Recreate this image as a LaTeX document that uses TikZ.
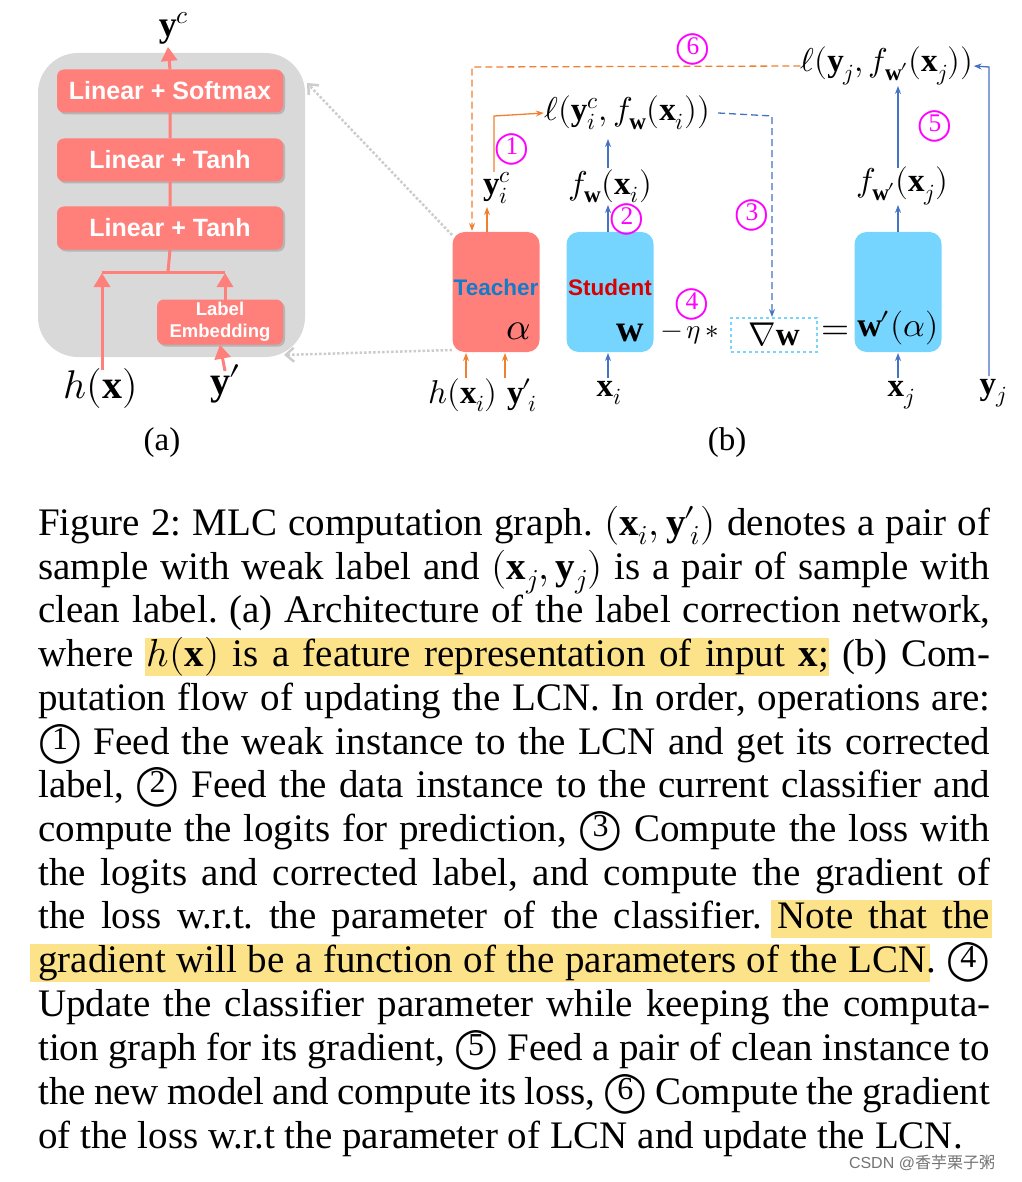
\documentclass[tikz,border=0pt]{standalone}
\usepackage{fontspec}
\usepackage{unicode-math}
\setmainfont{Liberation Serif}
\setmathfont{Latin Modern Math}
\newfontfamily\arialb{Liberation Sans}
\newfontfamily\symf{DejaVu Sans}
\newfontfamily\cjk{Noto Sans CJK SC}
\usetikzlibrary{arrows.meta,shadows}
\definecolor{salmon}{HTML}{FF7F7B}
\definecolor{sky}{HTML}{75D5FF}
\definecolor{orng}{HTML}{F08030}
\definecolor{blu}{HTML}{4472C4}
\definecolor{hl}{HTML}{FCE38A}
\definecolor{mag}{HTML}{FF00FF}
\newcommand{\cc}[1]{\ooalign{{\symf\char"25EF}\cr\hidewidth\raisebox{0.12em}{\scalebox{0.82}{#1}}\hidewidth}}
\newcommand{\pr}{\mkern-1mu\prime}
\newcommand{\capln}[1]{\hbox to 952pt{#1}}
\frenchspacing
\begin{document}
\begin{tikzpicture}[x=1pt,y=-1pt,
  layer/.style={fill=salmon,rounded corners=7pt,drop shadow={shadow xshift=2pt,shadow yshift=-2pt,opacity=0.4},text=white,font=\arialb\bfseries\fontsize{25}{25}\selectfont,inner sep=0},
  netbox/.style={rounded corners=12pt,inner sep=0},
  mth/.style={font=\fontsize{33}{36}\selectfont,inner sep=0},
  pk/.style={draw=salmon,line width=3pt},
  pkarr/.style={pk,-{Triangle[length=14pt,width=16pt]}},
  oa/.style={draw=orng,line width=1.3pt,-{Stealth[length=8pt,width=6pt]}},
  ba/.style={draw=blu,line width=1.3pt,-{Stealth[length=8pt,width=6pt]}},
  dots/.style={draw=black!20,line width=2.5pt,dotted,-{Straight Barb[length=8pt,width=14pt]}},
  num/.style={text=mag,inner sep=0,font=\fontsize{31}{31}\selectfont}]
\useasboundingbox (0,0) rectangle (1021,1182);
% ---------- panel (a)
\fill[black!15,rounded corners=40pt] (38,53) rectangle (305,357);
\node[layer,minimum width=226pt,minimum height=43pt] (ls) at (170,91) {Linear + Softmax};
\node[layer,minimum width=226pt,minimum height=43pt] (t1) at (170,160) {Linear + Tanh};
\node[layer,minimum width=226pt,minimum height=43pt] (t2) at (170,228) {Linear + Tanh};
\node[layer,minimum width=126pt,minimum height=45pt,align=center,font=\arialb\bfseries\fontsize{18.5}{22}\selectfont] (le) at (220,322) {Label\\Embedding};
\node[mth,font=\fontsize{36}{40}\selectfont] (yc) at (174,28) {$\mathbf{y}^c$};
\node[mth,font=\fontsize{40}{44}\selectfont] (hx) at (101,388) {$h(\mathbf{x})$};
\node[mth,font=\fontsize{40}{44}\selectfont] (yp) at (226,384) {$\mathbf{y}\pr$};
\node[font=\fontsize{33}{36}\selectfont] at (162,443) {(a)};
\draw[pk] (t1.north) -- (ls.south) (t2.north) -- (t1.south) (t2.south) -- (168,272);
\draw[pkarr] (ls.north) -- (168,47);
\draw[pk] (102,272) -- (225,272);
\draw[pkarr] (102,370) -- (102,273);
\draw[pkarr] (225,300) -- (225,273);
\draw[pkarr] (225,371) -- (le.south);
% ---------- panel (b)
\node[netbox,fill=salmon,minimum width=87pt,minimum height=120pt] (te) at (496,292) {};
\node[netbox,fill=sky,minimum width=87pt,minimum height=120pt] (st) at (610,292) {};
\node[netbox,fill=sky,minimum width=87pt,minimum height=120pt] (nw) at (898,292) {};
\node[text=cyan!60!blue,font=\arialb\bfseries\fontsize{22.5}{22}\selectfont,inner sep=0] at (496,287) {Teacher};
\node[text=red!85!black,font=\arialb\bfseries\fontsize{22.5}{22}\selectfont,inner sep=0] at (610,287) {Student};
\node[mth,font=\fontsize{38}{38}\selectfont] at (519,331) {$\alpha$};
\node[mth,font=\fontsize{38}{38}\selectfont] at (630,333) {$\mathbf{w}$};
\node[mth,font=\fontsize{34}{34}\selectfont] at (898,328) {$\mathbf{w}\pr(\alpha)$};
\node[mth,font=\fontsize{27}{30}\selectfont] at (690,335) {$-\,\eta\,*$};
\node[draw=sky,dashed,line width=2.5pt,minimum width=86pt,minimum height=34pt,inner sep=0,font=\fontsize{33}{34}\selectfont] (gw) at (774,335) {$\nabla\mathbf{w}$};
\node[mth,font=\fontsize{36}{36}\selectfont] at (835,333) {$=$};
\node[mth] (hxi) at (463,395) {$h(\mathbf{x}_i)$};
\node[mth] (ypi) at (522,395) {$\mathbf{y}\pr_{\!i}$};
\node[mth] (xi) at (609,393) {$\mathbf{x}_i$};
\node[mth] (xj) at (901,395) {$\mathbf{x}_j$};
\node[mth] (yj) at (993,393) {$\mathbf{y}_j$};
\node[mth] (yci) at (497,188) {$\mathbf{y}_i^c$};
\node[mth] (fw) at (610,186) {$f_{\mathbf{w}}(\mathbf{x}_i)$};
\node[mth] (fwp) at (902,186) {$f_{\mathbf{w}\pr}(\mathbf{x}_j)$};
\node[mth] (l1) at (627,113) {$\ell(\mathbf{y}_i^c,f_{\mathbf{w}}(\mathbf{x}_i))$};
\node[mth] (l2) at (887,66) {$\ell(\mathbf{y}_j,f_{\mathbf{w}\pr}(\mathbf{x}_j))$};
\node[font=\fontsize{33}{36}\selectfont] at (727,443) {(b)};
\node[num] at (512,146) {\cc{1}};
\node[num] at (627,216) {\cc{2}};
\node[num] at (752,212) {\cc{3}};
\node[num] at (692,301) {\cc{4}};
\node[num] at (935,123) {\cc{5}};
\node[num] at (693,46) {\cc{6}};
\draw[oa] (466,378) -- (466,353);
\draw[oa] (505,378) -- (505,353);
\draw[oa] (487,232) -- (487,207);
\draw[oa] (494,172) -- (494,116) -- (l1.west);
\draw[ba] (608,378) -- (608,353);
\draw[ba] (608,232) -- (608,205);
\draw[ba] (608,168) -- (608,139);
\draw[ba] (898,378) -- (898,353);
\draw[ba] (898,232) -- (898,205);
\draw[ba] (898,168) -- (898,86);
\draw[ba] (989,376) -- (989,67) -- (l2.east);
\draw[blu,line width=1.3pt,dash pattern=on 7pt off 4pt,-{Stealth[length=8pt,width=6pt]}] (l1.east)++(8,0) -- (772,116) -- (772,317);
\draw[orng,line width=1.3pt,dash pattern=on 7pt off 4pt,-{Stealth[length=8pt,width=6pt]}] (l2.west) -- (472,67) -- (472,231);
\draw[dots] (452,350) -- (284,355);
\draw[dots] (452,235) -- (307,83);
% ---------- caption
\fill[hl] (145,638) rectangle (829,676);
\fill[hl] (771,900) rectangle (992,938);
\fill[hl] (30,944) rectangle (930,982);
\begin{scope}[every node/.style={anchor=base west,inner sep=0,font=\fontsize{39}{42}\selectfont}]
\node at (38,535) {\capln{Figure 2: MLC computation graph. $(\mathbf{x}_i,\mathbf{y}\pr_{\!i})$ denotes a pair of}};
\node at (38,579) {\capln{sample with weak label and $(\mathbf{x}_j,\mathbf{y}_j)$ is a pair of sample with}};
\node at (38,622) {\capln{clean label. (a) Architecture of the label correction network,}};
\node at (38,666) {\capln{where $h(\mathbf{x})$ is a feature representation of input $\mathbf{x}$; (b) Com-}};
\node at (38,710) {\capln{putation flow of updating the LCN. In order, operations are:}};
\node at (38,754) {\capln{\cc{1} Feed the weak instance to the LCN and get its corrected}};
\node at (38,797) {\capln{label, \cc{2} Feed the data instance to the current classifier and}};
\node at (38,841) {\capln{compute the logits for prediction, \cc{3} Compute the loss with}};
\node at (38,885) {\capln{the logits and corrected label, and compute the gradient of}};
\node at (38,928) {\capln{the loss w.r.t. the parameter of the classifier. Note that the}};
\node at (38,972) {\capln{gradient will be a function of the parameters of the LCN. \cc{4}}};
\node at (38,1016) {\capln{Update the classifier parameter while keeping the computa-}};
\node at (38,1060) {\capln{tion graph for its gradient, \cc{5} Feed a pair of clean instance to}};
\node at (38,1104) {\capln{the new model and compute its loss, \cc{6} Compute the gradient}};
\node at (38,1148) {of the loss w.r.t the parameter of LCN and update the LCN.};
\end{scope}
\node[text=black!55,inner sep=0,font=\arialb\fontsize{16}{16}\selectfont] at (922,1163) {CSDN @{\cjk 香芋栗子粥}};
\end{tikzpicture}
\end{document}
